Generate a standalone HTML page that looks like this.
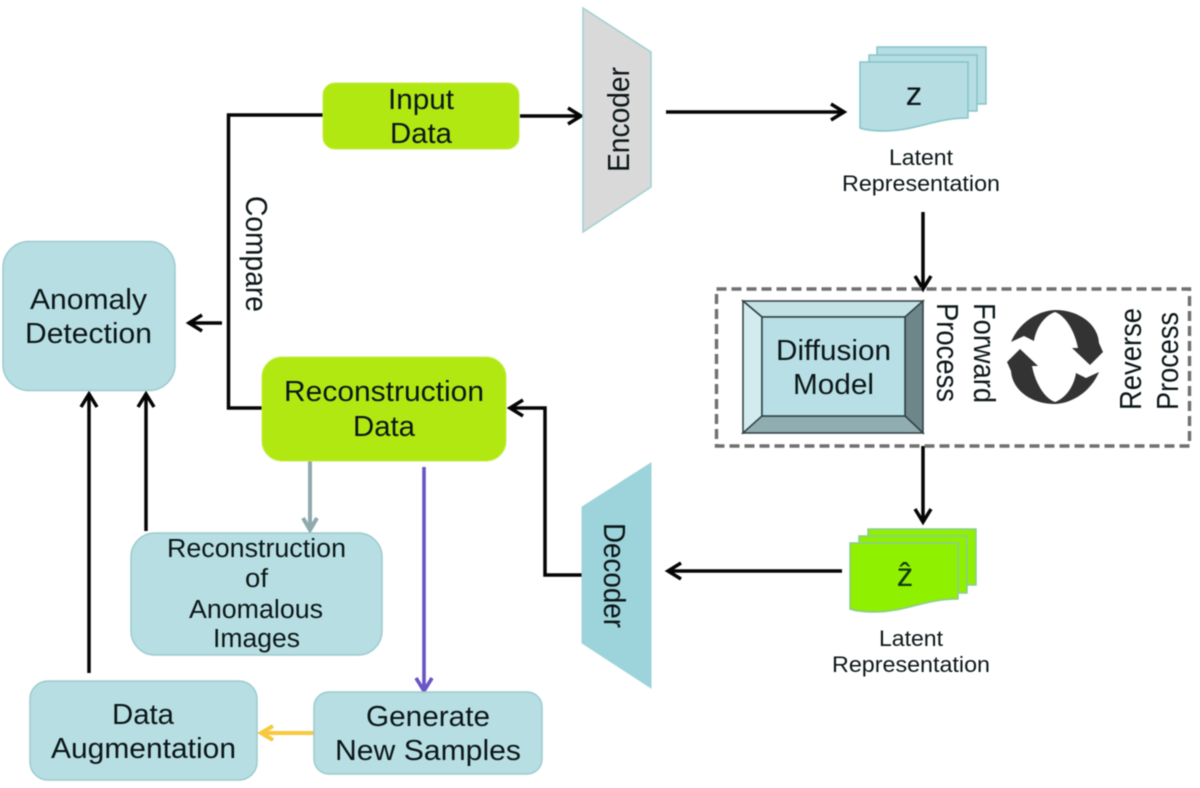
<!DOCTYPE html>
<html><head><meta charset="utf-8"><style>
html,body{margin:0;padding:0;background:#fff}
svg{display:block;filter:blur(.5px)}
text{font-family:"Liberation Sans",sans-serif;fill:#0c1618}
.k{fill:none;stroke:#050505;stroke-width:3.500}
</style></head><body>
<svg width="1200" height="788" viewBox="0 0 1200 788" xmlns="http://www.w3.org/2000/svg">
<rect width="1200" height="788" fill="#fff"/>
<!-- connectors -->
<path class="k" d="M323 115H228.500V408H262"/>
<path class="k" d="M222 323H188M202 315l-13 8l13 8"/>
<path class="k" d="M520 116H580M568 108l13 8l-13 8"/>
<path class="k" d="M666 112H843M831 104l13 8l-13 8"/>
<path class="k" d="M923 212V288M915 276l8 13l8-13"/>
<path class="k" d="M923 446V521M915 509l8 13l8-13"/>
<path class="k" d="M842 571H669M681 563l-13 8l13 8"/>
<path class="k" d="M582 575H545V408H511M523 400l-13 8l13 8"/>
<path class="k" d="M89 673V395M81 407l8-13l8 13"/>
<path class="k" d="M146 531V395M138 407l8-13l8 13"/>
<path fill="none" stroke="#8fa9ad" stroke-width="4" d="M310 461V529M303 518l7 12l7-12"/>
<path fill="none" stroke="#6a55c4" stroke-width="3.600" d="M424 467V689M416 678l8 13l8-13"/>
<path fill="none" stroke="#f6c93e" stroke-width="4" d="M314 733H261M273 726l-12 7l12 7"/>
<!-- boxes -->
<rect x="323" y="83" width="196" height="66" rx="12" fill="#b1e812" stroke="#c3ec4a"/>
<rect x="262" y="357" width="244" height="104" rx="20" fill="#b1e812" stroke="#c3ec4a"/>
<rect x="3" y="241.500" width="172" height="149" rx="26" fill="#b7dfe3" stroke="#9ccace" stroke-width="1.500"/>
<rect x="131" y="533" width="251" height="122" rx="24" fill="#b7dfe3" stroke="#9ccace" stroke-width="1.500"/>
<rect x="30" y="681" width="227" height="99" rx="18" fill="#b7dfe3" stroke="#9ccace" stroke-width="1.500"/>
<rect x="314" y="692" width="228" height="82" rx="15" fill="#b7dfe3" stroke="#9ccace" stroke-width="1.500"/>
<!-- encoder / decoder -->
<polygon points="583,8 651,52 651,187 583,232" fill="#d9d9d9" stroke="#9fd0d3" stroke-width="1.500"/>
<polygon points="582,507 651,463 651,688 582,643" fill="#9dd3da" stroke="#9dd3da"/>
<!-- z stack -->
<g fill="#b5dde2" stroke="#86c5ca" stroke-width="1.500">
<rect x="877" y="47" width="109" height="57"/>
<rect x="869" y="55" width="108" height="56"/>
<path d="M860 62H968V118C935 118 915 131 885 131C875 131 866 130 860 128Z"/>
</g>
<g fill="#8ff000" stroke="#8cc99a" stroke-width="1.500">
<rect x="868" y="529" width="108" height="56"/>
<rect x="859" y="536" width="108" height="57"/>
<path d="M850 543H958V599C925 599 905 612 875 612C865 612 856 611 850 609Z"/>
</g>
<!-- dashed -->
<rect x="716.500" y="289" width="473" height="157" fill="none" stroke="#707070" stroke-width="3.400" stroke-dasharray="10 5"/>
<!-- bevel -->
<g stroke="#2f3f42" stroke-width="1.500">
<polygon points="743,301 923,301 905,317 762,317" fill="#c3e2e6"/>
<polygon points="743,301 762,317 762,416 743,433" fill="#d2ebee"/>
<polygon points="923,301 923,433 905,416 905,317" fill="#6e8689"/>
<polygon points="743,433 762,416 905,416 923,433" fill="#90aeb1"/>
<rect x="762" y="317" width="143" height="99" fill="#b7dfe5"/>
</g>
<!-- cycle -->
<g fill="#333">
<path d="M1011 342C1018 325 1035 311 1055 310C1080 310 1098 325 1099 343L1103 352L1090 365L1072 348L1078 348C1075 332 1066 316 1055 312C1044 316 1036 328 1034 341L1024 336Z"/>
<path transform="rotate(180 1055 357)" d="M1011 342C1018 325 1035 311 1055 310C1080 310 1098 325 1099 343L1103 352L1090 365L1072 348L1078 348C1075 332 1066 316 1055 312C1044 316 1036 328 1034 341L1024 336Z"/>
</g>
<!-- labels -->
<g font-size="29">
<text x="388" y="109" textLength="66" lengthAdjust="spacingAndGlyphs">Input</text>
<text x="390" y="143" textLength="62" lengthAdjust="spacingAndGlyphs">Data</text>
<text x="30" y="309" textLength="117" lengthAdjust="spacingAndGlyphs">Anomaly</text>
<text x="25" y="343" textLength="127" lengthAdjust="spacingAndGlyphs">Detection</text>
<text x="284" y="401" textLength="200" lengthAdjust="spacingAndGlyphs">Reconstruction</text>
<text x="353" y="436" textLength="62" lengthAdjust="spacingAndGlyphs">Data</text>
<text x="112" y="724" textLength="62" lengthAdjust="spacingAndGlyphs">Data</text>
<text x="51" y="758" textLength="185" lengthAdjust="spacingAndGlyphs">Augmentation</text>
<text x="366" y="726" textLength="124" lengthAdjust="spacingAndGlyphs">Generate</text>
<text x="335" y="760" textLength="186" lengthAdjust="spacingAndGlyphs">New Samples</text>
<text x="776" y="360" textLength="115" lengthAdjust="spacingAndGlyphs">Diffusion</text>
<text x="793" y="394" textLength="81" lengthAdjust="spacingAndGlyphs">Model</text>
<text transform="translate(246 196) rotate(90)" textLength="116" lengthAdjust="spacingAndGlyphs" font-size="31">Compare</text>
<text transform="translate(629 172) rotate(-90)" textLength="105" lengthAdjust="spacingAndGlyphs" font-size="31">Encoder</text>
<text transform="translate(604 523) rotate(90)" textLength="105" lengthAdjust="spacingAndGlyphs" font-size="31">Decoder</text>
<text transform="translate(974 303) rotate(90)" textLength="100" lengthAdjust="spacingAndGlyphs" font-size="31">Forward</text>
<text transform="translate(937 303) rotate(90)" textLength="99" lengthAdjust="spacingAndGlyphs" font-size="31">Process</text>
<text transform="translate(1141 410) rotate(-90)" textLength="102" lengthAdjust="spacingAndGlyphs" font-size="31">Reverse</text>
<text transform="translate(1178 410) rotate(-90)" textLength="98" lengthAdjust="spacingAndGlyphs" font-size="31">Process</text>
</g>
<g font-size="25.500">
<text x="167" y="557" textLength="179" lengthAdjust="spacingAndGlyphs">Reconstruction</text>
<text x="245" y="587" textLength="23" lengthAdjust="spacingAndGlyphs">of</text>
<text x="189" y="618" textLength="134" lengthAdjust="spacingAndGlyphs">Anomalous</text>
<text x="213" y="647" textLength="87" lengthAdjust="spacingAndGlyphs">Images</text>
</g>
<g font-size="22.500" style="fill:#20282a">
<text x="889" y="165" textLength="64" lengthAdjust="spacingAndGlyphs">Latent</text>
<text x="842" y="191" textLength="158" lengthAdjust="spacingAndGlyphs">Representation</text>
<text x="879" y="646" textLength="64" lengthAdjust="spacingAndGlyphs">Latent</text>
<text x="832" y="672" textLength="158" lengthAdjust="spacingAndGlyphs">Representation</text>
</g>
<text x="914" y="105" font-size="33" text-anchor="middle">z</text>
<text x="905" y="586" font-size="33" text-anchor="middle" style="fill:#123a10">ẑ</text>
</svg>
</body></html>
